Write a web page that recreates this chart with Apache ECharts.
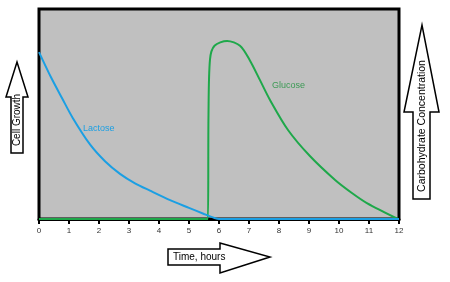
<!DOCTYPE html>
<html>
<head>
<meta charset="utf-8">
<script src="https://cdn.jsdelivr.net/npm/echarts@6/dist/echarts.min.js"></script>
<style>
html,body{margin:0;padding:0;background:#fff;}
#c{width:450px;height:282px;}
</style>
</head>
<body>
<div id="c"></div>
<script>
var xTicks = [0,1,2,3,4,5,6,7,8,9,10,11,12];
var lactose = [[0,79.5],[0.4,67.5],[0.77,57.5],[1.13,48],[1.7,35.5],[2.2,27.5],[2.7,21.5],[3.2,17],[3.7,13.5],[4.37,9],[5,5.3],[5.5,2.4],[5.85,0.5],[6,0],[12,0]];
var glucose = [[0,0],[5.63,0],[5.65,50],[5.7,76],[5.85,82.5],[6.27,84.8],[6.7,82.5],[7.03,75.5],[7.37,66],[7.7,56.7],[8.3,42.4],[9.03,30],[9.87,18.6],[10.43,12.4],[10.93,7.6],[11.97,0]];
var labels = {lactose:'Lactose', glucose:'Glucose', x:'Time, hours', yLeft:'Cell Growth', yRight:'Carbohydrate Concentration'};

var chart = echarts.init(document.getElementById('c'));
var FF = 'Liberation Sans, Arial, sans-serif';
chart.setOption({
  animation:false,
  backgroundColor:'#fff',
  grid:{left:39,right:51,top:9,bottom:63,show:true,backgroundColor:'#c0c0c0',borderColor:'#000',borderWidth:3},
  xAxis:{type:'value',min:0,max:12,interval:1,
    axisLine:{lineStyle:{color:'#000',width:3}},
    axisTick:{length:5,lineStyle:{color:'#000',width:2}},
    axisLabel:{fontSize:8,color:'#333',fontFamily:FF,margin:8,formatter:function(v){return xTicks.indexOf(v)>=0?String(v):'';}},
    splitLine:{show:false}},
  yAxis:{type:'value',min:0,max:100,show:false,splitLine:{show:false}},
  series:[
    {type:'line',data:glucose,showSymbol:false,smooth:0.3,lineStyle:{color:'#1ea84a',width:2},z:3},
    {type:'line',data:lactose,showSymbol:false,smooth:0.3,lineStyle:{color:'#1b9fe3',width:2},z:4}
  ],
  graphic:[
    {type:'text',left:83,top:124,style:{text:labels.lactose,fill:'#1b9fe3',font:'9px '+FF}},
    {type:'text',left:272,top:81,style:{text:labels.glucose,fill:'#3c9a55',font:'9px '+FF}},
    {type:'polygon',shape:{points:[[168,249],[220,249],[220,243],[270,257],[220,273],[220,265],[168,265]]},style:{fill:'#fff',stroke:'#000',lineWidth:1.5}},
    {type:'text',x:173,y:257,style:{text:labels.x,fill:'#000',font:'10px '+FF,textVerticalAlign:'middle'}},
    {type:'polygon',shape:{points:[[11,153],[11,97],[6,97],[17,62],[28,97],[23,97],[23,153]]},style:{fill:'#fff',stroke:'#000',lineWidth:1.5}},
    {type:'text',x:17,y:120,rotation:Math.PI/2,style:{text:labels.yLeft,fill:'#000',font:'10px '+FF,textAlign:'center',textVerticalAlign:'middle'}},
    {type:'polygon',shape:{points:[[413,199],[413,112],[404,112],[422,25],[439,112],[430,112],[430,199]]},style:{fill:'#fff',stroke:'#000',lineWidth:1.5}},
    {type:'text',x:422,y:126,rotation:Math.PI/2,style:{text:labels.yRight,fill:'#000',font:'10.5px '+FF,textAlign:'center',textVerticalAlign:'middle'}}
  ]
});
</script>
</body>
</html>
